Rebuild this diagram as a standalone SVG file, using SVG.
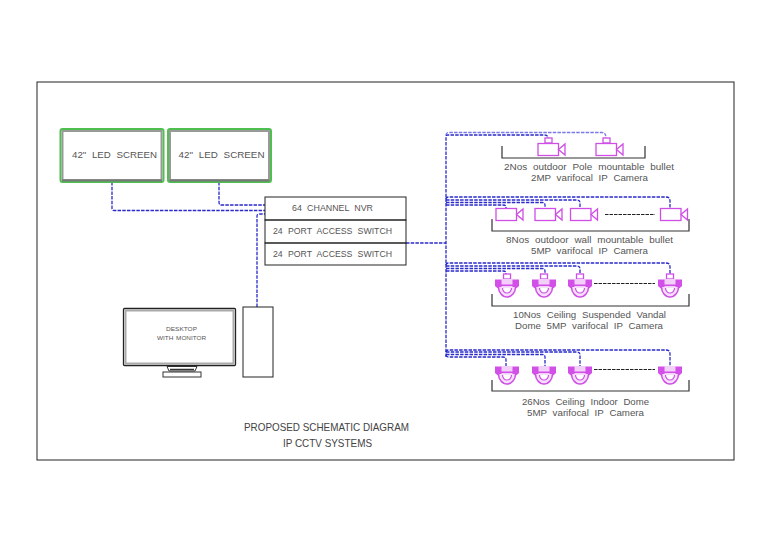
<svg xmlns="http://www.w3.org/2000/svg" width="768" height="543" viewBox="0 0 768 543">
<style>
text{font-family:"Liberation Sans",Arial,sans-serif;fill:#555;font-size:9.5px;word-spacing:3px}
.t{font-size:11.5px;fill:#444;word-spacing:0}
.s{font-size:6px;word-spacing:1px}
.w{fill:none;stroke:#2a2acb;stroke-width:1.3;stroke-dasharray:3.5 1.2}
.l{stroke:#7a7ae6}
.k{fill:none;stroke:#222;stroke-width:1}
.m{fill:#fff;stroke:#cf4fe6;stroke-width:1.3}
.d{fill:none;stroke:#222;stroke-width:1.1;stroke-dasharray:3.5 1}
.bk{fill:none;stroke:#333;stroke-width:1.2}
</style>
<defs>
<g id="cam"><rect class="m" x="0" y="0" width="20.500" height="12"/><path class="m" d="M20.500 6 L27 0.500 V11.500 Z"/></g>
<g id="dome">
<path d="M-12 0.500 H12 V7 L8 10.500 H-8 L-12 7 Z" fill="#d24fe8"/>
<path d="M-8.500 8 A8.500 10 0 0 0 8.500 8" fill="#f6dffb" stroke="#cf4fe6" stroke-width="1.500"/>
<path d="M-4.500 9 A4.500 5 0 0 0 4.500 9" fill="#fff" stroke="#cf4fe6" stroke-width="1.200"/>
<rect x="-5.500" y="0" width="11" height="5.500" fill="#f2d0f9"/>
<path d="M-5.500 7.500 H5.500" stroke="#f2d0f9" stroke-width="1"/>
</g>
<rect id="stub" class="m" x="-3.500" y="0" width="7" height="5" stroke-width="0.900"/>
</defs>
<rect width="768" height="543" fill="#fff"/>
<rect id="frame" x="37" y="82" width="697" height="378" fill="none" stroke="#222" stroke-width="1"/>

<g id="connectors">
<path class="w" d="M112 182 V208.500 Q112 210.500 114 210.500 H265"/>
<path class="w" d="M219 182 V202.500 Q219 205 222 205 H265"/>
<path class="w" d="M257 307 V216 Q257 214 259 214 H265"/>
<path class="w" d="M406 243 H446"/>
<path class="w" d="M446 357 V136"/>
<path class="w l" d="M446 135 Q446 132.500 449 132.500 H602 Q606 132.500 606 138"/>
<path class="w" d="M446 136 Q446 135 448 135 H544 Q548 135 548 138"/>
<path class="w" d="M446 199 Q446 197 449 197 H666 Q670 197 670 201 V208"/>
<path class="w" d="M446 200 H577 Q580 200 580 203 V208"/>
<path class="w" d="M446 202.500 H542 Q545 202.500 545 205 V208"/>
<path class="w" d="M446 205 H503 Q506 205 506 207 V208"/>
<path class="w" d="M446 265 Q446 263 449 263 H666 Q670 263 670 267 V274"/>
<path class="w" d="M446 266 H577 Q580 266 580 269 V274"/>
<path class="w" d="M446 268.500 H542 Q545 268.500 545 271 V274"/>
<path class="w" d="M446 271 H503 Q506 271 506 273 V274"/>
<path class="w" d="M446 352 Q446 350 449 350 H666 Q670 350 670 354 V366"/>
<path class="w" d="M446 352 H577 Q580 352 580 355 V366"/>
<path class="w" d="M446 354.500 H542 Q545 354.500 545 357 V366"/>
<path class="w" d="M446 355 Q446 357 449 357 H503 Q506 357 506 360 V366"/>
</g>

<g id="screen-1">
<rect x="60.500" y="129" width="103" height="53" rx="2" fill="none" stroke="#4fc04f" stroke-width="2"/>
<rect x="62.500" y="131" width="99" height="49" fill="#fff" stroke="#999" stroke-width="2"/>
<path d="M62 180.500 H162" stroke="#777" stroke-width="2"/>
<text x="72" y="158" textLength="85" lengthAdjust="spacingAndGlyphs">42" LED SCREEN</text>
</g>
<g id="screen-2">
<rect x="168" y="129" width="103" height="53" rx="2" fill="none" stroke="#4fc04f" stroke-width="2"/>
<rect x="170" y="131" width="99" height="49" fill="#fff" stroke="#999" stroke-width="2"/>
<path d="M169.500 180.500 H269.500" stroke="#777" stroke-width="2"/>
<text x="178.500" y="158" textLength="86" lengthAdjust="spacingAndGlyphs">42" LED SCREEN</text>
</g>

<g id="nvr">
<rect class="k" x="265" y="197" width="141" height="23"/>
<text x="292" y="211" textLength="81" lengthAdjust="spacingAndGlyphs">64 CHANNEL NVR</text>
</g>
<g id="switch-1">
<rect class="k" x="265" y="220" width="141" height="23"/>
<text x="273" y="234" textLength="119" lengthAdjust="spacingAndGlyphs">24 PORT ACCESS SWITCH</text>
</g>
<g id="switch-2">
<rect class="k" x="265" y="243" width="141" height="22"/>
<text x="273" y="257" textLength="119" lengthAdjust="spacingAndGlyphs">24 PORT ACCESS SWITCH</text>
</g>

<g id="monitor">
<rect x="123.500" y="308.500" width="112" height="57" rx="1" fill="#fff" stroke="#222" stroke-width="1.300"/>
<rect x="125.500" y="310.500" width="108" height="53" fill="#fff" stroke="#aaa" stroke-width="2"/>
<path d="M167 366.500 L169 371 H195 L197 366.500 Z" fill="#fff" stroke="#333"/>
<path d="M170 369.500 H194" stroke="#333" stroke-width="1.500"/>
<rect x="163" y="372" width="38" height="5" fill="#fff" stroke="#333"/>
<text class="s" x="166" y="331" textLength="31" lengthAdjust="spacingAndGlyphs">DESKTOP</text>
<text class="s" x="157" y="340" textLength="49" lengthAdjust="spacingAndGlyphs">WITH MONITOR</text>
</g>
<g id="tower"><rect class="k" x="243" y="307" width="30" height="70" fill="#fff"/></g>

<g id="group-pole">
<path class="bk" d="M502 146 V158 H645 V146"/>
<use href="#stub" x="548.500" y="138"/><use href="#cam" x="538" y="143.500"/>
<use href="#stub" x="606.500" y="138"/><use href="#cam" x="596" y="143.500"/>
<text x="504" y="170" textLength="170" lengthAdjust="spacingAndGlyphs">2Nos outdoor Pole mountable bullet</text>
<text x="531" y="181" textLength="117" lengthAdjust="spacingAndGlyphs">2MP varifocal IP Camera</text>
</g>
<g id="group-wall">
<path class="bk" d="M492 219 V231 H689 V219"/>
<use href="#cam" x="496" y="208.500"/><use href="#cam" x="535" y="208.500"/><use href="#cam" x="570.500" y="208.500"/><use href="#cam" x="660.500" y="208.500"/>
<path class="d" d="M605 214.500 H655"/>
<text x="506" y="242.500" textLength="167" lengthAdjust="spacingAndGlyphs">8Nos outdoor wall mountable bullet</text>
<text x="531" y="253.500" textLength="117" lengthAdjust="spacingAndGlyphs">5MP varifocal IP Camera</text>
</g>
<g id="group-suspended">
<path class="bk" d="M492 294 V306 H689 V294"/>
<use href="#stub" x="507" y="274"/><use href="#stub" x="544" y="274"/><use href="#stub" x="580" y="274"/><use href="#stub" x="670" y="274"/>
<use href="#dome" x="507" y="279"/><use href="#dome" x="544" y="279"/><use href="#dome" x="580" y="279"/><use href="#dome" x="670" y="279"/>
<path class="d" d="M594 283.500 H655"/>
<text x="513" y="317.500" textLength="153" lengthAdjust="spacingAndGlyphs">10Nos Ceiling Suspended Vandal</text>
<text x="515" y="328.500" textLength="148" lengthAdjust="spacingAndGlyphs">Dome 5MP varifocal IP Camera</text>
</g>
<g id="group-indoor">
<path class="bk" d="M492 380 V391 H689 V380"/>
<use href="#dome" x="507" y="366"/><use href="#dome" x="544" y="366"/><use href="#dome" x="580" y="366"/><use href="#dome" x="670" y="366"/>
<path class="d" d="M594 369.500 H655"/>
<text x="522" y="404.500" textLength="127" lengthAdjust="spacingAndGlyphs">26Nos Ceiling Indoor Dome</text>
<text x="527" y="415.500" textLength="117" lengthAdjust="spacingAndGlyphs">5MP varifocal IP Camera</text>
</g>

<g id="title">
<text class="t" x="244" y="431" textLength="165" lengthAdjust="spacingAndGlyphs">PROPOSED SCHEMATIC DIAGRAM</text>
<text class="t" x="283" y="447" textLength="89" lengthAdjust="spacingAndGlyphs">IP CCTV SYSTEMS</text>
</g>
</svg>
